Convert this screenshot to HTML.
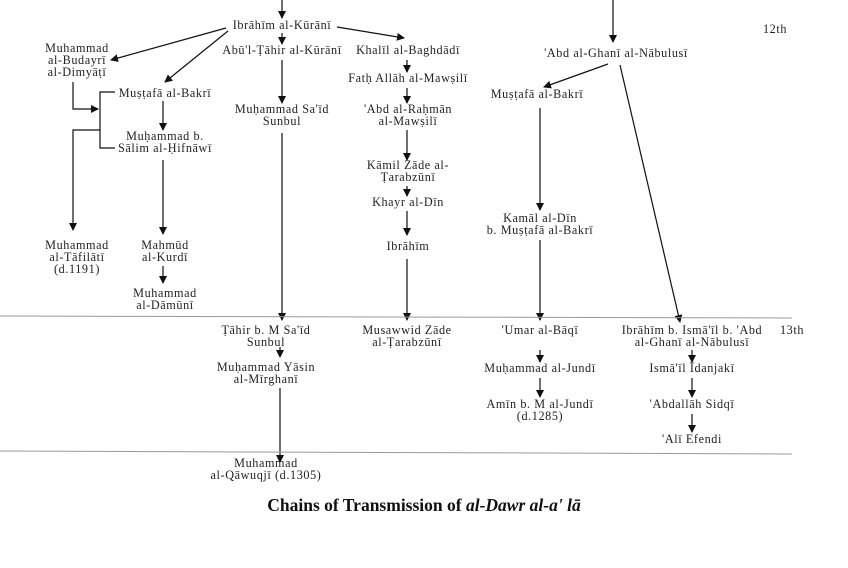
<!DOCTYPE html>
<html><head><meta charset="utf-8"><style>
html,body{margin:0;padding:0;background:#fff;}
svg{display:block;}
text{font-family:"Liberation Serif","DejaVu Serif",serif;font-size:12.2px;letter-spacing:0.6px;fill:#222;text-anchor:middle;}
</style></head><body>
<svg width="848" height="568" viewBox="0 0 848 568" xmlns="http://www.w3.org/2000/svg">
<defs><marker id="a" markerWidth="8" markerHeight="8" refX="7" refY="4" orient="auto" markerUnits="userSpaceOnUse"><path d="M0,0 L8,4 L0,8 Z" fill="#111"/></marker></defs>
<g stroke="#111" stroke-width="1.2" fill="none">
<line x1="282" y1="0" x2="282" y2="18" marker-end="url(#a)"/>
<line x1="282" y1="33" x2="282" y2="44" marker-end="url(#a)"/>
<line x1="226" y1="28" x2="111" y2="60" marker-end="url(#a)"/>
<line x1="228" y1="31" x2="165" y2="82" marker-end="url(#a)"/>
<line x1="337" y1="27" x2="404" y2="38" marker-end="url(#a)"/>
<polyline points="73,82 73,109 98,109" marker-end="url(#a)"/>
<polyline points="115,92 100,92 100,148 115,148"/>
<polyline points="100,130 73,130 73,230" marker-end="url(#a)"/>
<line x1="163" y1="101" x2="163" y2="130" marker-end="url(#a)"/>
<line x1="163" y1="160" x2="163" y2="234" marker-end="url(#a)"/>
<line x1="163" y1="266" x2="163" y2="283" marker-end="url(#a)"/>
<line x1="282" y1="60" x2="282" y2="103" marker-end="url(#a)"/>
<line x1="282" y1="133" x2="282" y2="320" marker-end="url(#a)"/>
<line x1="407" y1="60" x2="407" y2="72" marker-end="url(#a)"/>
<line x1="407" y1="88" x2="407" y2="103" marker-end="url(#a)"/>
<line x1="407" y1="130" x2="407" y2="160" marker-end="url(#a)"/>
<line x1="407" y1="186" x2="407" y2="196" marker-end="url(#a)"/>
<line x1="407" y1="211" x2="407" y2="235" marker-end="url(#a)"/>
<line x1="407" y1="259" x2="407" y2="320" marker-end="url(#a)"/>
<line x1="613" y1="0" x2="613" y2="42" marker-end="url(#a)"/>
<line x1="608" y1="64" x2="544" y2="87" marker-end="url(#a)"/>
<line x1="540" y1="108" x2="540" y2="210" marker-end="url(#a)"/>
<line x1="540" y1="240" x2="540" y2="320" marker-end="url(#a)"/>
<line x1="620" y1="65" x2="680" y2="322" marker-end="url(#a)"/>
<line x1="280" y1="347" x2="280" y2="357" marker-end="url(#a)"/>
<line x1="280" y1="388" x2="280" y2="462" marker-end="url(#a)"/>
<line x1="540" y1="350" x2="540" y2="362" marker-end="url(#a)"/>
<line x1="540" y1="378" x2="540" y2="397" marker-end="url(#a)"/>
<line x1="692" y1="350" x2="692" y2="362" marker-end="url(#a)"/>
<line x1="692" y1="378" x2="692" y2="397" marker-end="url(#a)"/>
<line x1="692" y1="414" x2="692" y2="432" marker-end="url(#a)"/>
</g>
<line x1="0" y1="316" x2="792" y2="318" stroke="#999" stroke-width="1"/>
<line x1="0" y1="451" x2="792" y2="454" stroke="#999" stroke-width="1"/>
<text x="282" y="29">Ibrāhīm al-Kūrānī</text>
<text x="282" y="54">Abū'l-Ṭāhir al-Kūrānī</text>
<text x="77" y="52">Muhammad</text><text x="77" y="64">al-Budayrī</text><text x="77" y="76">al-Dimyāṭī</text>
<text x="408" y="54">Khalīl al-Baghdādī</text>
<text x="165" y="97">Muṣṭafā al-Bakrī</text>
<text x="165" y="140">Muḥammad b.</text><text x="165" y="152">Sālim al-Ḥifnāwī</text>
<text x="77" y="249">Muhammad</text><text x="77" y="261">al-Tāfilātī</text><text x="77" y="273">(d.1191)</text>
<text x="165" y="249">Mahmūd</text><text x="165" y="261">al-Kurdī</text>
<text x="165" y="297">Muhammad</text><text x="165" y="309">al-Dāmūnī</text>
<text x="282" y="113">Muḥammad Sa'īd</text><text x="282" y="125">Sunbul</text>
<text x="408" y="82">Fatḥ Allāh al-Mawṣilī</text>
<text x="408" y="113">'Abd al-Raḥmān</text><text x="408" y="125">al-Mawṣilī</text>
<text x="408" y="169">Kāmil Zāde al-</text><text x="408" y="181">Ṭarabzūnī</text>
<text x="408" y="206">Khayr al-Dīn</text>
<text x="408" y="250">Ibrāhīm</text>
<text x="616" y="57">'Abd al-Ghanī al-Nābulusī</text>
<text x="775" y="33">12th</text>
<text x="537" y="98">Muṣṭafā al-Bakrī</text>
<text x="540" y="222">Kamāl al-Dīn</text><text x="540" y="234">b. Muṣṭafā al-Bakrī</text>
<text x="266" y="334">Ṭāhir b. M Sa'īd</text><text x="266" y="346">Sunbul</text>
<text x="266" y="371">Muḥammad Yāsin</text><text x="266" y="383">al-Mīrghanī</text>
<text x="266" y="467">Muhammad</text><text x="266" y="479">al-Qāwuqjī (d.1305)</text>
<text x="407" y="334">Musawwid Zāde</text><text x="407" y="346">al-Ṭarabzūnī</text>
<text x="540" y="334">'Umar al-Bāqī</text>
<text x="540" y="372">Muḥammad al-Jundī</text>
<text x="540" y="408">Amīn b. M al-Jundī</text><text x="540" y="420">(d.1285)</text>
<text x="692" y="334">Ibrāhīm b. Ismā'īl b. 'Abd</text><text x="692" y="346">al-Ghanī al-Nābulusī</text>
<text x="692" y="372">Ismā'īl Īdanjakī</text>
<text x="692" y="408">'Abdallāh Sidqī</text>
<text x="692" y="443">'Alī Efendi</text>
<text x="792" y="334">13th</text>
<text x="424" y="511" style="font-size:17.5px;letter-spacing:0;font-weight:bold;fill:#111">Chains of Transmission of <tspan font-style="italic">al-Dawr al-a' lā</tspan></text>
</svg>
</body></html>
